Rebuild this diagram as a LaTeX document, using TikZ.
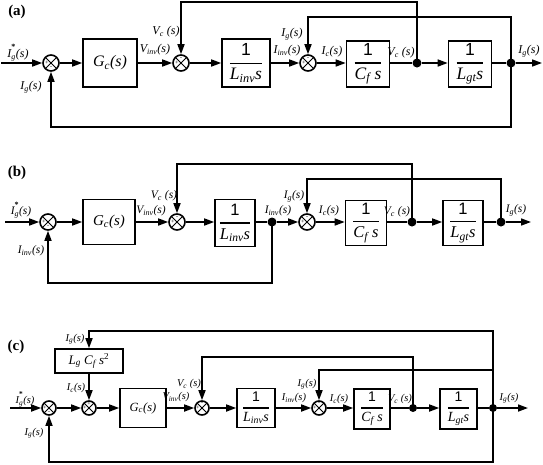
\documentclass[tikz,border=0pt]{standalone}
\usepackage{fontspec}
\usepackage{amsmath}
\setmainfont{Liberation Serif}
\setsansfont{Liberation Sans}
\usetikzlibrary{arrows.meta}
\newcommand\sbs[1]{\textsubscript{#1}}
\newcommand\fr[2]{$\genfrac{}{}{1.2pt}{0}{\mbox{\sffamily\upshape #1}}{\mbox{#2}}$}
\newcommand\istar{I\rlap{\raisebox{0.3em}{\textsuperscript{\upshape\bfseries *}}}\textsubscript{g}(s)}
\newcommand\xcross{\draw[line width=1pt] (path picture bounding box.north west) -- (path picture bounding box.south east) (path picture bounding box.north east) -- (path picture bounding box.south west);}
\tikzset{
  ln/.style={line width=1.6pt},
  arr/.style={ln, -{Triangle[length=10pt,width=7pt]}},
  blk/.style={draw, ln, inner sep=0pt, font=\fontsize{16}{17}\selectfont\itshape},
  bfa/.style={font=\fontsize{17.5}{18}\selectfont\itshape},
  bfb/.style={font=\fontsize{16.5}{17}\selectfont\itshape},
  bfc/.style={font=\fontsize{14}{15}\selectfont\itshape},
  sg/.style={inner sep=0pt, font=\fontsize{6}{6}\selectfont},
  sumc/.style={circle, draw, ln, minimum size=#1, inner sep=0pt},
  sumB/.style={sumc=#1, path picture={\xcross
     \node[sg] at ([xshift=-4.2pt]path picture bounding box.center) {+};
     \node[sg] at ([yshift=-4.2pt]path picture bounding box.center) {-};}},
  sumT/.style={sumc=#1, path picture={\xcross
     \node[sg] at ([xshift=-4.2pt]path picture bounding box.center) {+};
     \node[sg] at ([yshift=4.2pt]path picture bounding box.center) {-};}},
  sumP/.style={sumc=#1, path picture={\xcross
     \node[sg] at ([xshift=-4.2pt]path picture bounding box.center) {+};
     \node[sg] at ([yshift=4.2pt]path picture bounding box.center) {+};}},
  dot/.style={circle, fill, minimum size=9pt, inner sep=0pt},
  labA/.style={inner sep=0pt, font=\fontsize{12}{13}\selectfont\itshape},
  labB/.style={inner sep=0pt, font=\fontsize{11.5}{12}\selectfont\itshape},
  labC/.style={inner sep=0pt, font=\fontsize{10.5}{11}\selectfont\itshape},
  ttl/.style={inner sep=0pt, font=\fontsize{15}{16}\selectfont\bfseries},
}
\begin{document}
\begin{tikzpicture}[x=1pt,y=-1pt]
\useasboundingbox (0,0) rectangle (543,464);
% ================= (a)
\node[ttl] (ta) at (17,12) {(a)};
\coordinate (ina) at (1,63);
\node[sumB=16pt] (s1a) at (51,63) {};
\node[blk, minimum width=54pt, minimum height=48pt] (gca) at (110,63) {G\sbs{c}(s)};
\node[sumT=16pt] (s2a) at (181,63) {};
\node[blk, bfa, minimum width=48pt, minimum height=48pt] (lia) at (246,63) {\fr{1}{L\sbs{inv}s}};
\node[sumT=16pt] (s3a) at (308,63) {};
\node[blk, bfa, minimum width=43pt, minimum height=46pt] (cfa) at (368,64) {\fr{1}{C\sbs{f} s}};
\node[dot] (j1a) at (417,63) {};
\node[blk, bfa, minimum width=43pt, minimum height=46pt] (lga) at (470,64) {\fr{1}{L\sbs{gt}s}};
\node[dot] (j2a) at (511,63) {};
\coordinate (outa) at (542,63);
\draw[arr] (ina) -- (s1a);
\draw[arr] (s1a) -- (gca);
\draw[arr] (gca) -- (s2a);
\draw[arr] (s2a) -- (lia);
\draw[arr] (lia) -- (s3a);
\draw[arr] (s3a) -- (cfa.west |- s3a);
\draw[ln] (cfa.east |- j1a) -- (j1a);
\draw[arr] (j1a) -- (lga.west |- j1a);
\draw[ln] (lga.east |- j2a) -- (j2a);
\draw[arr] (j2a) -- (outa);
\draw[arr] (j1a.center) -- ++(0,-61) -| (s2a);
\draw[arr] (j2a.center) -- ++(0,-46) -| (s3a);
\draw[arr] (j2a.center) -- ++(0,64) -| (s1a);
\node[labA] (la1) at (18,53) {\istar};
\node[labA] (la2) at (31,87) {I\sbs{g}(s)};
\node[labA] (la3) at (166,32) {V\sbs{c} (s)};
\node[labA] (la4) at (155,50) {V\sbs{inv}(s)};
\node[labA] (la5) at (287,51) {I\sbs{inv}(s)};
\node[labA] (la6) at (292,34) {I\sbs{g}(s)};
\node[labA] (la7) at (332,52) {I\sbs{c}(s)};
\node[labA] (la8) at (401,53) {V\sbs{c} (s)};
\node[labA] (la9) at (529,51) {I\sbs{g}(s)};
% ================= (b)
\node[ttl] (tb) at (17,173) {(b)};
\coordinate (inb) at (5,222);
\node[sumB=16pt] (s1b) at (48,222) {};
\node[blk, minimum width=52pt, minimum height=45pt, font=\fontsize{15}{16}\selectfont\itshape] (gcb) at (109,222) {G\sbs{c}(s)};
\node[sumT=16pt] (s2b) at (177,222) {};
\node[blk, bfb, minimum width=40pt, minimum height=47pt] (lib) at (235,223) {\fr{1}{L\sbs{inv}s}};
\node[dot] (j0b) at (272,222) {};
\node[sumT=16pt] (s3b) at (307,222) {};
\node[blk, bfb, minimum width=41pt, minimum height=45pt] (cfb) at (366,223) {\fr{1}{C\sbs{f} s}};
\node[dot] (j1b) at (412,222) {};
\node[blk, bfb, minimum width=40pt, minimum height=45pt] (lgb) at (463,223) {\fr{1}{L\sbs{gt}s}};
\node[dot] (j2b) at (501,222) {};
\coordinate (outb) at (531,222);
\draw[arr] (inb) -- (s1b);
\draw[arr] (s1b) -- (gcb);
\draw[arr] (gcb) -- (s2b);
\draw[arr] (s2b) -- (lib.west |- s2b);
\draw[ln] (lib.east |- j0b) -- (j0b);
\draw[arr] (j0b) -- (s3b);
\draw[arr] (s3b) -- (cfb.west |- s3b);
\draw[ln] (cfb.east |- j1b) -- (j1b);
\draw[arr] (j1b) -- (lgb.west |- j1b);
\draw[ln] (lgb.east |- j2b) -- (j2b);
\draw[arr] (j2b) -- (outb);
\draw[arr] (j1b.center) -- ++(0,-58) -| (s2b);
\draw[arr] (j2b.center) -- ++(0,-43) -| (s3b);
\draw[arr] (j0b.center) -- ++(0,61) -| (s1b);
\node[labB] (lb1) at (21,210) {\istar};
\node[labB] (lb2) at (31,251) {I\sbs{inv}(s)};
\node[labB] (lb3) at (164,196) {V\sbs{c} (s)};
\node[labB] (lb4) at (151,211) {V\sbs{inv}(s)};
\node[labB] (lb5) at (278,211) {I\sbs{inv}(s)};
\node[labB] (lb6) at (294,196) {I\sbs{g}(s)};
\node[labB] (lb7) at (329,211) {I\sbs{c}(s)};
\node[labB] (lb8) at (397,212) {V\sbs{c} (s)};
\node[labB] (lb9) at (516,210) {I\sbs{g}(s)};
% ================= (c)
\node[ttl] (tc) at (16,347) {(c)};
\coordinate (inc) at (10,408);
\node[sumB=14pt] (s1c) at (49,408) {};
\node[sumP=14pt] (s0c) at (89,408) {};
\node[blk, minimum width=68pt, minimum height=24pt, font=\fontsize{13}{14}\selectfont\itshape] (lcc) at (89,361) {L\sbs{g} C\sbs{f} s\textsuperscript{\upshape 2}};
\node[blk, minimum width=46pt, minimum height=39pt, font=\fontsize{12.5}{13}\selectfont\itshape] (gcc) at (143,408) {G\sbs{c}(s)};
\node[sumT=14pt] (s2c) at (202,408) {};
\node[blk, bfc, minimum width=38pt, minimum height=39pt] (lic) at (256,408) {\fr{1}{L\sbs{inv}s}};
\node[sumT=14pt] (s3c) at (319,408) {};
\node[blk, bfc, minimum width=36pt, minimum height=40pt] (cfc) at (372,409) {\fr{1}{C\sbs{f} s}};
\node[dot, minimum size=8pt] (j1c) at (413,408) {};
\node[blk, bfc, minimum width=37pt, minimum height=40pt] (lgc) at (458.5,409) {\fr{1}{L\sbs{gt}s}};
\node[dot, minimum size=8pt] (j2c) at (493,408) {};
\coordinate (outc) at (528,408);
\draw[arr] (inc) -- (s1c);
\draw[arr] (s1c) -- (s0c);
\draw[arr] (s0c) -- (gcc);
\draw[arr] (gcc) -- (s2c);
\draw[arr] (s2c) -- (lic);
\draw[arr] (lic) -- (s3c);
\draw[arr] (s3c) -- (cfc.west |- s3c);
\draw[ln] (cfc.east |- j1c) -- (j1c);
\draw[arr] (j1c) -- (lgc.west |- j1c);
\draw[ln] (lgc.east |- j2c) -- (j2c);
\draw[arr] (j2c) -- (outc);
\draw[arr] (lcc) -- (s0c);
\draw[arr] (j2c.center) -- ++(0,-77) -| (lcc);
\draw[arr] (j1c.center) -- ++(0,-51) -| (s2c);
\draw[arr] (j2c.center) -- ++(0,-38) -| (s3c);
\draw[arr] (j2c.center) -- ++(0,54) -| (s1c);
\node[labC] (lc1) at (75,339) {I\sbs{g}(s)};
\node[labC] (lc2) at (76,388) {I\sbs{c}(s)};
\node[labC] (lc3) at (25,399) {\istar};
\node[labC] (lc4) at (34,433) {I\sbs{g}(s)};
\node[labC] (lc5) at (189,384) {V\sbs{c} (s)};
\node[labC] (lc6) at (176,397) {V\sbs{inv}(s)};
\node[labC] (lc7) at (294,398) {I\sbs{inv}(s)};
\node[labC] (lc8) at (307,384) {I\sbs{g}(s)};
\node[labC] (lc9) at (339,399) {I\sbs{c}(s)};
\node[labC] (lc10) at (400,399) {V\sbs{c} (s)};
\node[labC] (lc11) at (509,398) {I\sbs{g}(s)};
\end{tikzpicture}
\end{document}
